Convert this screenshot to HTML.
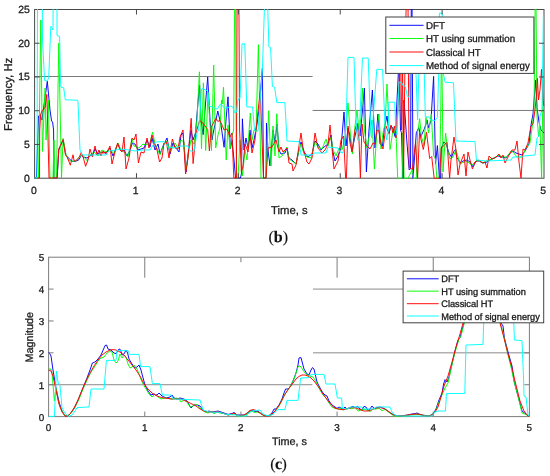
<!DOCTYPE html>
<html lang="en">
<head>
<meta charset="utf-8">
<title>Figure: instantaneous frequency and magnitude</title>
<style>
html,body{margin:0;padding:0;background:#fff;}
body{width:550px;height:476px;overflow:hidden;}
svg{display:block;font-family:"Liberation Sans",Arial,Helvetica,sans-serif;}
svg text{stroke:#1c1c1c;stroke-width:0.3px;}
svg text.cap{stroke-width:0.15px;}
</style>
</head>
<body>
<svg width="550" height="476" viewBox="0 0 550 476" text-rendering="geometricPrecision">
<defs><clipPath id="ct"><rect x="34.1" y="9" width="510.4" height="169.7"/></clipPath><clipPath id="cb"><rect x="48.1" y="256.7" width="481.8" height="160.4"/></clipPath></defs>
<rect width="550" height="476" fill="#fff"/>
<line x1="34.6" y1="76.5" x2="312.6" y2="76.5" stroke="#7a7a7a" stroke-width="1"/>
<line x1="312.6" y1="110.45" x2="544" y2="110.45" stroke="#7a7a7a" stroke-width="1"/>
<rect x="34.6" y="9.5" width="509.4" height="168.7" fill="none" stroke="#484848" stroke-width="1"/>
<polyline clip-path="url(#ct)" points="34.5,178 36.4,178 38.5,116 40,115.5 42,120 43,112 47.3,81.3 50,110 51.6,121 52.6,122 53.6,130 53.9,178 57.1,178 58.8,150 63.1,140 65.9,155.3 69.2,158.6 71.9,161.3 75.7,161.3 79,159.7 81.2,155.3 83.4,157 87,158 90,156 93,154 95,149 98,154 101,152 104,153 107,152 110,148 113,156 116,148 118,144 121,151 124,150 127,156 130,150 132.4,143 135,144 138,150 141,149 144,148 147,140 150,147 152,138 155,150 158,144 160,154 163,146 167,138 170,154 173,143 176,148 179,152 181,135 183,133 186,172 189,146 191,130 193,140 195.5,133 198,102 199.6,85 201,120 203.1,134.7 205,110 207.7,76.9 210,120 212,140 213.2,133 217.8,111 221,125 224.1,147.3 226,120 228,96.8 230.4,149 232,140 234,160 235.6,178 240.4,178 241.4,174 242.4,118.8 244,150 246,138 248,148 250,130 252,148 254,140 257,124 259,110 262.4,68 263.5,178 266,178 266.5,123 268,150 270,166 273,130 275,142 277,124 279,150 281,154 285,153 287,148 289,158 292,160 296,164 299,150 301,142 304,152 308,157 312,154 315,141 318,144 321,150 324,147 328,144 331,135 333,152 335,161 338,156 341,148 344,112 346,146 348,128 350,136 352,151 355,136 358,124 360,136 363,105 364.4,88 366.4,172 369,130 372.4,90 375,148 378,114 380,144 382.4,146 384.4,128 387,116 389,133 391,126 392.6,127.7 395.1,136.7 397,100 399,60 400.5,130 401.5,132.8 402.8,178.3 404,100 406.7,139.2 409.2,170 410.5,168.7 411.3,0 412,0 413,178.3 416.3,132.8 418.8,127.7 420.8,136.7 424,129.6 426.5,122.6 427,120 428.5,127.7 431,120.6 433.6,76.4 435.5,163.6 437.4,145.6 439.4,178.3 440.6,178.3 441.3,148.2 443.8,141.8 446.4,144.4 449,153.3 451.5,157.2 454.1,150.8 455.4,149.5 456.7,157.2 458.6,160 460,163 463,161 467,160 470,162 473,167 476,161 479,161 483,163 487,162 490,160 494,158 498,156 502,157 506,158 510,153 513,151 516,153 519,154 522,155 525,151 529,144 531,125 533,114 535.6,80 537,108 539,122 541,130 544,133" fill="none" stroke="#0000ff" stroke-width="0.95" stroke-linejoin="round"/>
<polyline clip-path="url(#ct)" points="34.5,178 38.5,178 40.8,20 42.4,151.5 45.1,88 46,140 48.4,100 50,178 53,178 54,140 55,178 56.5,178 58.8,43 61.5,178 63.1,138.4 65.9,154.2 68,159.7 70.3,160.8 73.5,161.3 75.7,160.8 80,156.4 82.3,154.8 84.5,157.5 87,160.8 90,155 94,152 98,156 102,150 106,152 110,149 114,154 118,143 121,150 124,152 128,157 132,139 134,146 139,148 143,144 146,145 150,143 152.6,132 155,144 160,155 164,144 167,141 170,152 175,143 178,148 181,140 184,142 186,170 189,150 191,140 194,144 197,120 199.4,71.8 201.5,149 203.4,82.8 205.7,150.5 208,92 211.5,150.5 213.7,65.1 215.7,148 218,135 220,128 221.5,100 222.3,104 223.5,87.2 226.2,160 228,125 230,149 232,136 233.6,130 234.7,0 235.6,0 236.3,178 238,178 240,140 242.5,176 245,150 247,160 250.3,113 252,140 254,130 256,132 258.4,44.7 261,178 266,178 268.7,110.7 271,166 273,126 275,156 276.8,113.7 279,158 282,156 284,152 287,147 289,159 292,161 296,164 299,150 301,144 304,154 307,157 311,158 315,142 318,147 322,149 326,139 328,146 331,137 333,150 336,156 339,148 342,150 345,138 348,103 350,130 352.4,154 355,126 357,110 359,130 361,118 362.4,88 364.4,130 367,148 370,132 372,120 374.4,169 377,130 379,114 381,149 383,133 385,124 387,84 390,149.5 391.3,141.8 393.2,127.7 394.5,132.8 395.8,127.7 397.7,178.3 402.2,178.3 402.8,132.8 404.1,178.3 408,178.3 412.4,169.4 413.7,178.3 416.3,178.3 417.6,132.8 419.7,118.7 421.4,136.7 424,145.6 425.9,117.4 428.5,132.8 431.3,114.2 433.6,155.9 435.5,158.5 436.8,178.3 439.4,176.4 440.6,122.6 441.6,40 442.6,120 443,172 445.6,133 447.6,150 450,159 453,157 456,150 460,164 466,161 472,165 477,160 483,163 488,160 492,159 496,157 499,155 502,157 507,157 511,151 513,152 517,157 522,157 526,148 530,143 532,128 534,112 535.2,0 536,0 537,116 538.5,136 540,126 541.6,178 543,90 544,80" fill="none" stroke="#00ff00" stroke-width="0.95" stroke-linejoin="round"/>
<polyline clip-path="url(#ct)" points="34.5,178 39.5,178 39.7,130 40.7,114 42.4,110.2 45.1,107.5 46.8,94.4 47.8,130 49,178 57.1,178 58.8,148.8 63.1,139.5 65.3,154.2 67.5,157.5 70.3,165.2 73,154.8 74.1,160.8 75.7,160.8 79,157.5 81.2,152.6 83.4,158 85.6,166.3 88,160 90,149 92.4,157 95,146 97,155 99,150 101,156 103,151 106,154 110,146 112,164 115,152 117.6,143 120,150 122,152 124,137 126,169 129,158 132,138 134,140 136,134 138.4,163 141,152 144,153 147,138 149,148 152,135 154,142 157,150 159.6,162 162,158 164,143 166.4,142 169,158 172.4,139 175,148 178,149 180,137 183,130 185.6,174 188,158 191.2,118.3 193.1,163.6 196,133 199.6,120.4 203.1,123.4 207.7,129.4 209.4,151 211.2,127.4 215.8,118.3 217.8,121.4 219.8,120.4 222.3,125.4 224,130 227,129 230,137 232,133 233.8,178 236.4,178 237.1,0 238.9,0 239.6,130 241.4,172 243,166 245,144 248,152 250,135 252,153 255,140 257,120 260.3,90.9 262,140 263.5,178 266,178 268,148 272,147 276,140 279,152 281,147 283,152 287,148 289,163 292,164 293,171 296,165 299,146 301,133 303,148 307,162 309,164 312,158 315,133 318,148 322,153 325,150 328,144 330,125 332,148 334,169 338,161 341,140 343.6,136 345.6,178 346.4,178 348,126 350,143 352,152 355,130 357,123 359,140 360.4,178 362,124 364,142 367,146 370,149 373,143 375,144 377,130 379,131 381,144 383,149 386,126 389,134 391,125 393,133 394.4,126 396,138 398.5,100 400.5,50 401.5,130 402.5,60 403.5,178 405.4,30 406.5,0 408,0 408.6,100 409.2,167.4 412.4,169.4 415.6,141.8 417.6,178.3 419.5,132.8 423.3,149.5 426.5,132.2 429.7,158.5 431.7,156.5 434.2,178.3 439.4,178.3 441.3,148.2 447,142.4 449.6,178 451,160 454,137 456,150 458,175 460,164 464,154 466,176 468,152 470,160 472.4,169 475,162 479,160 482,163 485,162 487,168 489,156 492,159 495,158 499,154 501,158 503,155 505,163 508,157 512,150 515,150 517,141 519,162 521,178 523,149 525,150 528,143 531,126 533,124 535,110 536.5,95 537.4,78.4 538.5,100 540,90 541.5,69.3 543,100 544,106" fill="none" stroke="#ff0000" stroke-width="0.95" stroke-linejoin="round"/>
<polyline clip-path="url(#ct)" points="34.5,178 37,178 37.5,0 42.3,0 42.5,40 44.6,80.5 47,81 48.7,78 50.8,26.3 53,30 53.2,0 57,0 57,35.5 59.6,36.6 60.4,78 61,87.3 63.7,87.8 65.3,99.8 77.5,100.2 78,102 80,150 82.4,155 106,155 109,151 116,150 120,149 130,150 135,151 142,150 150,150 155,142 164,141.6 168,147 176,148 180,146 188,146 190,151 194,151 197,133 198.6,130 201.6,89 203.1,88.5 205.2,90 207.7,91 209.2,106.2 213.2,107.2 217.3,109.2 219.8,104.7 221.3,104.7 224.8,108.2 227.9,107.7 230.4,106.2 232.9,107.2 234.4,112.3 236.5,112.3 238,99 240.1,98.2 242,43.8 244.8,43.8 246.8,107 252.6,107 254.5,130 255,131 258,131 260,102 262.4,70 264.7,0 267.5,0 268.9,46.9 270.6,47.6 272.4,86.5 274.6,87.2 276.8,102.6 284.9,102.6 287,141 299,141.6 301,155 312,155 314,153 326,153 328,147 338,148 340,152 343,153 345,140 346,125 348,57.4 354,57.4 355.5,110 357.5,140 359,140 362.4,58 368.2,58 371,135 371.6,138 376.8,69.4 382.6,69.4 385,125 386.5,140 388.5,130 388.8,102.2 394.7,102.2 395.6,125 397,135 399,82.2 401.5,82.2 402.8,85.4 405.4,86.7 407.3,96.3 409.2,97 410.5,45 415,45 417.6,120 419.5,45 423.6,45 425.3,116.8 428.5,116.8 431,120 434.9,120.6 437.4,117.4 438.7,73 439.4,13.2 442.2,13.2 443.2,73 445.1,82.2 453.5,82.8 454.7,111 456,141 475,141.6 476.4,160 486,161 511,160 513,157 522,157 524,156 535,155 537,138 539,136 540,116 542,110 543.4,16 544,16" fill="none" stroke="#00ffff" stroke-width="0.95" stroke-linejoin="round"/>
<line x1="136.48" y1="178.2" x2="136.48" y2="173.2" stroke="#484848" stroke-width="1"/>
<line x1="136.48" y1="9.5" x2="136.48" y2="14.5" stroke="#484848" stroke-width="1"/>
<line x1="238.36" y1="178.2" x2="238.36" y2="173.2" stroke="#484848" stroke-width="1"/>
<line x1="238.36" y1="9.5" x2="238.36" y2="14.5" stroke="#484848" stroke-width="1"/>
<line x1="340.24" y1="178.2" x2="340.24" y2="173.2" stroke="#484848" stroke-width="1"/>
<line x1="340.24" y1="9.5" x2="340.24" y2="14.5" stroke="#484848" stroke-width="1"/>
<line x1="442.12" y1="178.2" x2="442.12" y2="173.2" stroke="#484848" stroke-width="1"/>
<line x1="442.12" y1="9.5" x2="442.12" y2="14.5" stroke="#484848" stroke-width="1"/>
<line x1="34.6" y1="144.46" x2="39.6" y2="144.46" stroke="#484848" stroke-width="1"/>
<line x1="544" y1="144.46" x2="539" y2="144.46" stroke="#484848" stroke-width="1"/>
<line x1="34.6" y1="110.72" x2="39.6" y2="110.72" stroke="#484848" stroke-width="1"/>
<line x1="544" y1="110.72" x2="539" y2="110.72" stroke="#484848" stroke-width="1"/>
<line x1="34.6" y1="76.98" x2="39.6" y2="76.98" stroke="#484848" stroke-width="1"/>
<line x1="544" y1="76.98" x2="539" y2="76.98" stroke="#484848" stroke-width="1"/>
<line x1="34.6" y1="43.24" x2="39.6" y2="43.24" stroke="#484848" stroke-width="1"/>
<line x1="544" y1="43.24" x2="539" y2="43.24" stroke="#484848" stroke-width="1"/>
<text x="29.8" y="181.5" text-anchor="end" font-size="10.4" fill="#1c1c1c">0</text>
<text x="29.8" y="147.76" text-anchor="end" font-size="10.4" fill="#1c1c1c">5</text>
<text x="29.8" y="114.02" text-anchor="end" font-size="10.4" fill="#1c1c1c">10</text>
<text x="29.8" y="80.28" text-anchor="end" font-size="10.4" fill="#1c1c1c">15</text>
<text x="29.8" y="46.54" text-anchor="end" font-size="10.4" fill="#1c1c1c">20</text>
<text x="29.8" y="12.8" text-anchor="end" font-size="10.4" fill="#1c1c1c">25</text>
<text x="33.8" y="194.4" text-anchor="middle" font-size="10.4" fill="#1c1c1c">0</text>
<text x="135.68" y="194.4" text-anchor="middle" font-size="10.4" fill="#1c1c1c">1</text>
<text x="237.56" y="194.4" text-anchor="middle" font-size="10.4" fill="#1c1c1c">2</text>
<text x="339.44" y="194.4" text-anchor="middle" font-size="10.4" fill="#1c1c1c">3</text>
<text x="441.32" y="194.4" text-anchor="middle" font-size="10.4" fill="#1c1c1c">4</text>
<text x="543.2" y="194.4" text-anchor="middle" font-size="10.4" fill="#1c1c1c">5</text>
<text x="289.3" y="214" text-anchor="middle" font-size="11.3" fill="#1c1c1c">Time, s</text>
<text transform="translate(11.9,94.3) rotate(-90)" text-anchor="middle" font-size="11.4" fill="#1c1c1c">Frequency, Hz</text>
<rect x="385.8" y="17" width="148.1" height="56.4" fill="#fff" stroke="#404040" stroke-width="1"/>
<line x1="389.4" y1="25.3" x2="423.6" y2="25.3" stroke="#0000ff" stroke-width="0.95"/>
<text transform="translate(426,29) scale(0.973,1)" font-size="10" fill="#111">DFT</text>
<line x1="389.4" y1="38.5" x2="423.6" y2="38.5" stroke="#00ff00" stroke-width="0.95"/>
<text transform="translate(426,42.2) scale(0.973,1)" font-size="10" fill="#111">HT using summation</text>
<line x1="389.4" y1="52" x2="423.6" y2="52" stroke="#ff0000" stroke-width="0.95"/>
<text transform="translate(426,55.7) scale(0.973,1)" font-size="10" fill="#111">Classical HT</text>
<line x1="389.4" y1="65.6" x2="423.6" y2="65.6" stroke="#00ffff" stroke-width="0.95"/>
<text transform="translate(426,69.3) scale(0.973,1)" font-size="10" fill="#111">Method of signal energy</text>
<line x1="48.6" y1="384.72" x2="312.4" y2="384.72" stroke="#8a8a8a" stroke-width="1"/>
<line x1="313" y1="352.84" x2="529.4" y2="352.84" stroke="#8a8a8a" stroke-width="1"/>
<line x1="313" y1="289.08" x2="529.4" y2="289.08" stroke="#8a8a8a" stroke-width="1"/>
<rect x="48.6" y="257.2" width="480.8" height="159.4" fill="none" stroke="#7c7c7c" stroke-width="1"/>
<polyline clip-path="url(#cb)" points="48.6,352 50,354 51,356 53,370 56,388 59,402 62,411 65,415.6 68,416 71,413 75,407 79,398 83,388 87,378 90,370 92.4,363 95,362 98,359 101,355 103.6,349 105,345.6 106.6,345 108,349 111,350 114,353 116,353.6 119,349 120.4,349.6 122,355 124,354 126,350 127.6,353 129,359 132,364 135,368 137,367 139,365 141,370 142,374 145,385 148,391 151,395 154,394 157,395 159,393 162,396 166,398 170,397 172,395 174,398 177,399 180,398 184,399 187,401 191,408 194,405 197,405 200,406 203,410 206,412 209,411 212,412 215,411.6 218,411 221,412 224,413 228,414.4 232,413.6 234,412.4 237,415 240,415 244,415 247,413.6 250,411 253,410.4 255,411.6 258,411 261,413.6 264,415.6 269,415.6 272,413 274,409 276,409 279,405 282,399 284,393 285.6,389 288,389 290,387 293,381 296,373 298,365 299,358 301,357.6 302.4,363 304,369 307,374 309,375 311,370 312.4,367.6 314,369 315.6,376 317,382 320,388 323,393 325,395 327,396 329,401 332,405 335,407 337,408.4 339,407 341,408 343,409 345,407 347,409 350,407.6 353,406.4 355,407.6 358,406.6 360,409 362,410 364,406.4 366,407 368,410.4 370,409 372,406 374,408.4 377,407.6 380,407 383,408 386,410 389,412 392,414 396,415.6 400,416 404,415.6 408,415 412,414 415,413.6 417,413 419,414 422,415 426,415.6 430,415.6 433,414 436,409 439,400 442,393 443.6,384 445,379.6 447,382 449,377 452,364 455,351 458,340 460,338 462,330 464,323 470,300 476,288 482,285 488,288 495,300 501,323 503,326 504.4,338 508,352 512,366 514,381 518,396 522,411 526,414 529.4,416.6" fill="none" stroke="#0000ff" stroke-width="0.95" stroke-linejoin="round"/>
<polyline clip-path="url(#cb)" points="48.6,369 51,369 52,373 54.4,401 56,388 58,400 60,407 63,413 66,416 69,415 72,412 75,407 79,399 83,389 87,380 91,372 95,366 98,361 101,358 104,357 107,353 110,351 112,352 114,360 116,363 118,361 120,354 122,358 124,355 126,357 128,364 130,368 132,367 134,365 137,369 140,377 143,384 146,389 149,394 152,397 155,394 158,397 161,399 164,398 167,398 170,399 173,399 176,398 179,399 181,402 184,400 187,402 190,407 193,406 196,404 199,407 202,410 205,412 208,413 211,411.6 214,413.6 217,412 220,413 224,413.6 228,415 232,414.4 235,414 238,416 242,416.2 244,415.6 247,414 250,411.6 252,411 254,412.4 257,412 260,413 263,415 266,416 270,415.6 273,413 276,410 279,406 282,400 285,394 288,390 291,385 294,379 296,373 298,367 299.4,365.6 301,367 303,370 305,373 308,375.6 311,376.4 313,377 315,380 317,384 320,390 323,395 326,398 329,403 332,407 335,408.4 338,409 340,408 343,410 346,409 349,408 352,409 355,407 358,411 361,410 364,409 367,410 370,411.6 373,409 376,409 379,408 382,411 385,409 388,411.6 391,414 394,416 398,416.4 402,416 406,416 410,415 414,414.4 418,414.4 422,415 426,416 430,415.6 433,414 436,410 439,402 442,395 445,388 448,383 450,374 453,360 456,349 459,339 461,336 463,328 464.4,323 470,300 476,289 482,286 488,289 494,300 500.4,323 504,337 507.6,353 511,367 514,381 518,396 522,413 526,414.5 529.4,416.6" fill="none" stroke="#00ff00" stroke-width="0.95" stroke-linejoin="round"/>
<polyline clip-path="url(#cb)" points="48.6,370 51,371 53,376 56,390 59,404 62,412 65,416 67,416.4 70,414 74,408 78,400 82,390 86,381 90,373 94,366 98,360 102,355 106,352 110,350 113,349.6 116,350 120,352 124,355 128,360 132,365 136,370 140,376 144,384 148,389 152,393 156,395.6 160,397 164,398 168,398.4 172,399 176,399 180,399 184,400 188,402 192,404 196,406 200,409 204,411 208,412 212,412 216,412 220,412.4 224,413.6 228,415 232,414 234,413 236,415 240,415.6 244,415 247,413 250,410.4 253,409.6 256,410.4 259,412.4 262,414.4 265,416 269,416 272,414 275,411 278,407 281,402 284,396 287,391 290,387 293,383 296,379 299,376.4 302,375 305,375 308,376 311,378 314,381 317,385 320,389 323,394 326,398 329,402 332,405.6 335,408 338,409 341,409.6 344,409.6 348,408.4 352,407.6 356,408 360,409.6 364,411 368,411 372,409.6 376,408 380,407.6 384,408.4 388,411 392,414 396,415.6 400,416 404,415.6 408,415 412,414.4 416,414 420,414.4 424,415.6 428,416 432,415 435,412 438,407 441,397 444,386 448,376 452,362 456,347 460,334 463,323 470,300 476,290 482,288 488,290 494,300 500,323 504,338 508,354 512,368 515,381 520,401 524,411 528,416 529.4,416.6" fill="none" stroke="#ff0000" stroke-width="0.95" stroke-linejoin="round"/>
<polyline clip-path="url(#cb)" points="48.6,416.4 54.4,416.4 56.4,371 58,382 60,386 62,408 65,413 68,416.4 72,415 75,411 77,407.6 89,407 91,389 104,389 106.4,360.4 116,360.4 117,350.6 128,350.6 129.6,354.4 139,354.4 140.6,366.6 150,366.6 152.4,383.6 160,383.6 162.4,395 171,395 173,399 200,400 203,410 206,411 209,412 220,412.4 226,414.4 236,415 240,416 246,416 249,413 252,411 260,410 263,414 267,415.6 272,415 275,412 278,409.6 285,409.6 287,400.4 298,400.4 300.6,378 309,377.6 311,374.4 324,374.4 326,384 335,384 337.4,398 341.6,398 342.4,408.4 347,409 351,407 362,407 364,409 374,409 376,407 390,407 392.4,413 396,415.6 400,416 432,416 435,412 438,411 445.5,411 446.4,393.5 464.8,393.5 466,345 483,344.4 484.4,300 513,300 514.4,340 522,340.6 523.6,380 524,396 526,397 528,415 529.4,416.6" fill="none" stroke="#00ffff" stroke-width="0.95" stroke-linejoin="round"/>
<line x1="144.76" y1="416.6" x2="144.76" y2="411.6" stroke="#7c7c7c" stroke-width="1"/>
<line x1="144.76" y1="257.2" x2="144.76" y2="277.7" stroke="#7c7c7c" stroke-width="1"/>
<line x1="240.92" y1="416.6" x2="240.92" y2="411.6" stroke="#7c7c7c" stroke-width="1"/>
<line x1="240.92" y1="257.2" x2="240.92" y2="262.2" stroke="#7c7c7c" stroke-width="1"/>
<line x1="337.08" y1="416.6" x2="337.08" y2="411.6" stroke="#7c7c7c" stroke-width="1"/>
<line x1="337.08" y1="257.2" x2="337.08" y2="277.7" stroke="#7c7c7c" stroke-width="1"/>
<line x1="433.24" y1="416.6" x2="433.24" y2="411.6" stroke="#7c7c7c" stroke-width="1"/>
<line x1="433.24" y1="257.2" x2="433.24" y2="277.7" stroke="#7c7c7c" stroke-width="1"/>
<line x1="48.6" y1="384.72" x2="53.6" y2="384.72" stroke="#7c7c7c" stroke-width="1"/>
<line x1="529.4" y1="384.72" x2="524.4" y2="384.72" stroke="#7c7c7c" stroke-width="1"/>
<line x1="48.6" y1="352.84" x2="53.6" y2="352.84" stroke="#7c7c7c" stroke-width="1"/>
<line x1="529.4" y1="352.84" x2="524.4" y2="352.84" stroke="#7c7c7c" stroke-width="1"/>
<line x1="48.6" y1="320.96" x2="53.6" y2="320.96" stroke="#7c7c7c" stroke-width="1"/>
<line x1="529.4" y1="320.96" x2="524.4" y2="320.96" stroke="#7c7c7c" stroke-width="1"/>
<line x1="48.6" y1="289.08" x2="53.6" y2="289.08" stroke="#7c7c7c" stroke-width="1"/>
<line x1="529.4" y1="289.08" x2="524.4" y2="289.08" stroke="#7c7c7c" stroke-width="1"/>
<text x="44.3" y="420.8" text-anchor="end" font-size="9.9" fill="#1c1c1c">0</text>
<text x="44.3" y="388.92" text-anchor="end" font-size="9.9" fill="#1c1c1c">1</text>
<text x="44.3" y="357.04" text-anchor="end" font-size="9.9" fill="#1c1c1c">2</text>
<text x="44.3" y="325.16" text-anchor="end" font-size="9.9" fill="#1c1c1c">3</text>
<text x="44.3" y="293.28" text-anchor="end" font-size="9.9" fill="#1c1c1c">4</text>
<text x="44.3" y="261.4" text-anchor="end" font-size="9.9" fill="#1c1c1c">5</text>
<text x="48.5" y="430.5" text-anchor="middle" font-size="9.9" fill="#1c1c1c">0</text>
<text x="144.66" y="430.5" text-anchor="middle" font-size="9.9" fill="#1c1c1c">1</text>
<text x="240.82" y="430.5" text-anchor="middle" font-size="9.9" fill="#1c1c1c">2</text>
<text x="336.98" y="430.5" text-anchor="middle" font-size="9.9" fill="#1c1c1c">3</text>
<text x="433.14" y="430.5" text-anchor="middle" font-size="9.9" fill="#1c1c1c">4</text>
<text x="529.3" y="430.5" text-anchor="middle" font-size="9.9" fill="#1c1c1c">5</text>
<text x="289.5" y="445.2" text-anchor="middle" font-size="10.8" fill="#1c1c1c">Time, s</text>
<text transform="translate(32.8,337.2) rotate(-90)" text-anchor="middle" font-size="10.8" fill="#1c1c1c">Magnitude</text>
<rect x="403.1" y="271.1" width="140.6" height="51.7" fill="#fff" stroke="#404040" stroke-width="1"/>
<line x1="406.9" y1="278.8" x2="438.7" y2="278.8" stroke="#0000ff" stroke-width="0.95"/>
<text transform="translate(441.2,282.315) scale(0.973,1)" font-size="9.5" fill="#111">DFT</text>
<line x1="406.9" y1="291.15" x2="438.7" y2="291.15" stroke="#00ff00" stroke-width="0.95"/>
<text transform="translate(441.2,294.665) scale(0.973,1)" font-size="9.5" fill="#111">HT using summation</text>
<line x1="406.9" y1="303.7" x2="438.7" y2="303.7" stroke="#ff0000" stroke-width="0.95"/>
<text transform="translate(441.2,307.215) scale(0.973,1)" font-size="9.5" fill="#111">Classical HT</text>
<line x1="406.9" y1="316" x2="438.7" y2="316" stroke="#00ffff" stroke-width="0.95"/>
<text transform="translate(441.2,319.515) scale(0.973,1)" font-size="9.5" fill="#111">Method of signal energy</text>
<text class="cap" x="278.3" y="242" text-anchor="middle" font-family="'Liberation Serif', serif" font-size="16" fill="#111">(<tspan font-weight="bold">b</tspan>)</text>
<text class="cap" x="278.3" y="469" text-anchor="middle" font-family="'Liberation Serif', serif" font-size="16" letter-spacing="-0.6" fill="#111">(<tspan font-weight="bold">c</tspan>)</text>
</svg>
</body>
</html>
